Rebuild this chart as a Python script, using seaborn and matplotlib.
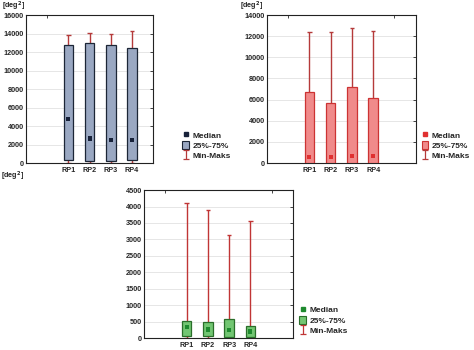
import matplotlib
matplotlib.use("Agg")
import matplotlib.pyplot as plt
import seaborn as sns
import pandas as pd
from matplotlib.lines import Line2D
from matplotlib.patches import Patch

# Data (deg^2)
groups = ["RP1", "RP2", "RP3", "RP4"]

a_min = [0, 0, 0, 0]
a_q1 = [300, 250, 250, 300]
a_med = [4800, 2650, 2500, 2500]
a_q3 = [12800, 12950, 12750, 12450]
a_max = [13850, 14050, 14000, 14250]

b_min = [0, 0, 0, 0]
b_q1 = [50, 50, 50, 50]
b_med = [600, 550, 650, 650]
b_q3 = [6750, 5700, 7150, 6200]
b_max = [12400, 12350, 12800, 12500]

c_min = [0, 0, 0, 0]
c_q1 = [60, 70, 30, 30]
c_med = [340, 260, 250, 200]
c_q3 = [520, 480, 590, 380]
c_max = [4120, 3900, 3130, 3560]

sns.set_style("white")
plt.rcParams["font.family"] = ["Liberation Sans", "DejaVu Sans"]
plt.rcParams["font.weight"] = "bold"

fig = plt.figure(figsize=(4.74, 3.5), dpi=100)

panels = [
    dict(rect=[0.055, 0.534, 0.268, 0.423], xmax=6, ymax=16000, step=2000,
         mn=a_min, q1=a_q1, med=a_med, q3=a_q3, mx=a_max,
         face="#9aa8c2", edge="#1c2636", mcol="#18223a", wcol="#b53a3a",
         lab=(0.004, 0.962), leg=(0.383, 0.54)),
    dict(rect=[0.563, 0.534, 0.314, 0.423], xmax=7, ymax=14000, step=2000,
         mn=b_min, q1=b_q1, med=b_med, q3=b_q3, mx=b_max,
         face="#f08a8a", edge="#cc3333", mcol="#e03030", wcol="#b53a3a",
         lab=(0.506, 0.962), leg=(0.888, 0.54)),
    dict(rect=[0.304, 0.034, 0.314, 0.423], xmax=7, ymax=4500, step=500,
         mn=c_min, q1=c_q1, med=c_med, q3=c_q3, mx=c_max,
         face="#72c672", edge="#2a6e2a", mcol="#1e8a2e", wcol="#c03535",
         lab=(0.003, 0.477), leg=(0.63, 0.04)),
]

for p in panels:
    ax = fig.add_axes(p["rect"])
    df = pd.DataFrame({"x": [2, 3, 4, 5], "min": p["mn"], "q1": p["q1"],
                       "med": p["med"], "q3": p["q3"], "max": p["mx"]})
    # whiskers
    ax.vlines(df["x"], df["q3"], df["max"], color=p["wcol"], lw=1.0, zorder=2)
    ax.vlines(df["x"], df["min"], df["q1"], color=p["wcol"], lw=1.0, zorder=2)
    ax.hlines(df["max"], df["x"] - 0.1, df["x"] + 0.1, color=p["wcol"], lw=1.0, zorder=2)
    ax.hlines(df["min"], df["x"] - 0.1, df["x"] + 0.1, color=p["wcol"], lw=1.0, zorder=2)
    # boxes
    ax.bar(df["x"], df["q3"] - df["q1"], bottom=df["q1"], width=0.45,
           color=p["face"], edgecolor=p["edge"], linewidth=0.9, zorder=3)
    # medians
    sns.scatterplot(data=df, x="x", y="med", marker="s", s=9, color=p["mcol"],
                    edgecolor="none", ax=ax, zorder=4)
    # legend stand-in for the min-max whisker
    eb = ax.errorbar([-5], [1], yerr=[1], fmt="none", ecolor=p["wcol"],
                     elinewidth=0.9, capsize=2.5, capthick=0.9)

    ax.set_xlim(0, p["xmax"])
    ax.set_ylim(0, p["ymax"])
    ax.set_yticks(range(0, p["ymax"] + 1, p["step"]))
    ax.set_xticks([2, 3, 4, 5])
    ax.set_xticklabels(groups)
    ax.set_xticks([1, 6], minor=True)
    ax.set_xlabel("")
    ax.set_ylabel("")
    ax.grid(axis="y", color="#e2e2e2", lw=0.6, zorder=0)
    ax.set_axisbelow(True)
    ax.tick_params(axis="both", labelsize=5.2, pad=1.5)
    ax.tick_params(axis="y", which="both", direction="in", length=2.5, right=True,
                   width=0.6)
    ax.tick_params(axis="x", which="major", length=0, pad=3)
    ax.tick_params(axis="x", which="minor", direction="in", length=2.5, top=True,
                   width=0.6)
    for s in ax.spines.values():
        s.set_color("#222222")
        s.set_linewidth(0.8)
    for t in ax.get_xticklabels() + ax.get_yticklabels():
        t.set_fontweight("bold")

    fig.text(p["lab"][0], p["lab"][1], "[deg$^2$]", fontsize=5.2,
             fontweight="bold", va="bottom")

    handles = [
        Line2D([], [], marker="s", ls="none", color=p["mcol"], markersize=2.5),
        Patch(facecolor=p["face"], edgecolor=p["edge"], linewidth=0.8),
        eb,
    ]
    fig.legend(handles, ["Median", "25%-75%", "Min-Maks"],
               loc="lower left", bbox_to_anchor=p["leg"], frameon=False,
               handlelength=0.8, handleheight=1.2, handletextpad=0.4,
               labelspacing=0.15, borderpad=0.1, borderaxespad=0,
               prop={"weight": "bold", "size": 6})

fig.savefig("out.png", dpi=100)
